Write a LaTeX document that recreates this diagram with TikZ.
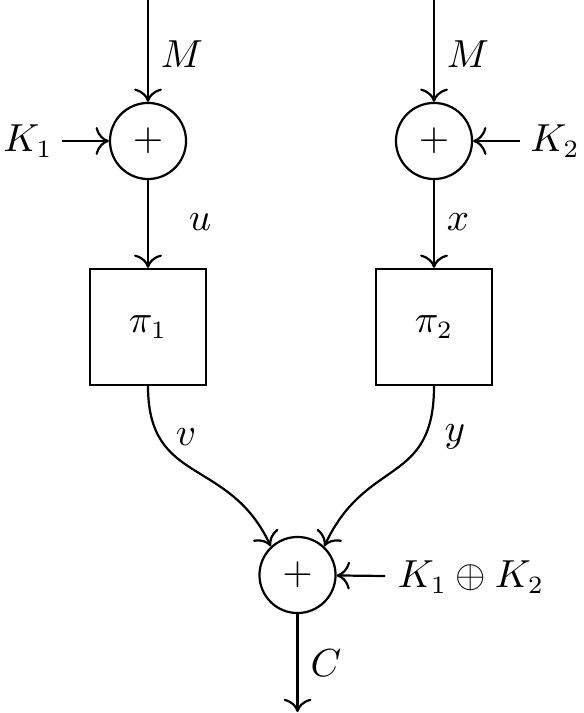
\documentclass[tikz,border=0pt]{standalone}
\usetikzlibrary{arrows.meta}
\begin{document}
\begin{tikzpicture}[x=0.28pt,y=-0.28pt,
  line width=0.62pt,
  >={To[scale=1.25]},
  font=\fontsize{10.7pt}{13pt}\selectfont,
  xorbox/.style={draw,circle,minimum size=21.3pt,inner sep=0pt},
  perm/.style={draw,minimum width=32.5pt,minimum height=32.5pt,inner sep=0pt},
  lbl/.style={inner sep=0pt}]
\useasboundingbox (0,0) rectangle (583,713);
% nodes
\node[xorbox] (c1) at (148,141) {$+$};
\node[xorbox] (c2) at (434,141) {$+$};
\node[xorbox] (c3) at (297.5,575) {$+$};
\node[perm] (p1) at (148,327) {$\pi_1$};
\node[perm] (p2) at (434,327) {$\pi_2$};
% labels
\node[lbl] (M1) at (182,54) {$M$};
\node[lbl] (M2) at (468,54) {$M$};
\node[lbl] (K1) at (28,141) {$K_1$};
\node[lbl] (K2) at (555,141) {$K_2$};
\node[lbl] (u) at (200,222) {$u$};
\node[lbl] (xl) at (458,222) {$x$};
\node[lbl] (v) at (186,437) {$v$};
\node[lbl] (yl) at (455,437) {$y$};
\node[lbl] (K12) at (471,577) {$K_1\oplus K_2$};
\node[lbl] (C) at (326,663) {$C$};
% free ends
\coordinate (t1) at (148,0);
\coordinate (t2) at (434,0);
\coordinate (k1e) at (62,141);
\coordinate (k2e) at (520,141);
\coordinate (k12e) at (385,576);
\coordinate (out) at (297.5,712);
% connectors
\draw[->] (t1) -- (c1);
\draw[->] (t2) -- (c2);
\draw[->] (k1e) -- (c1);
\draw[->] (k2e) -- (c2);
\draw[->] (c1) -- (p1);
\draw[->] (c2) -- (p2);
\draw[->] (p1.south) .. controls +(0,100) and +(-42,-90) .. (c3.133);
\draw[->] (p2.south) .. controls +(0,100) and +(42,-90) .. (c3.47);
\draw[->] (k12e) -- (c3);
\draw[->] (c3) -- (out);
\end{tikzpicture}
\end{document}
